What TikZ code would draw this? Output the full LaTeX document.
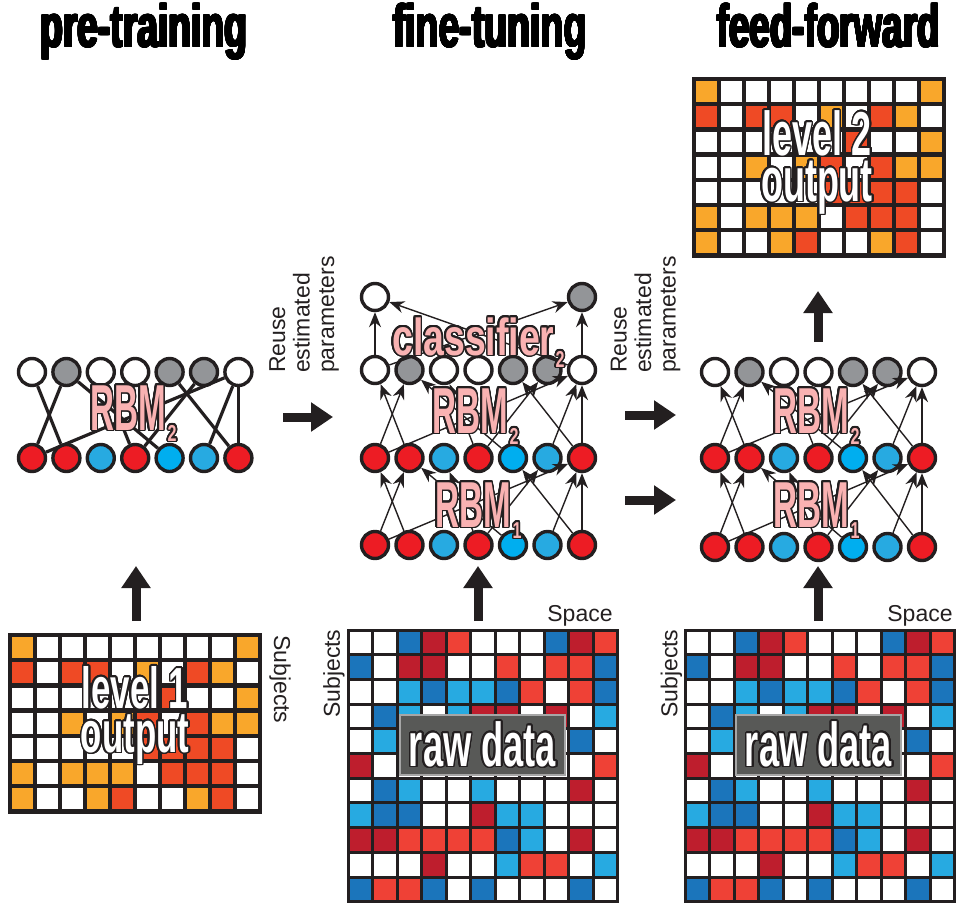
\documentclass[tikz,border=0pt]{standalone}
\usepackage{fontspec}
\setmainfont{Liberation Sans}
\usepackage{graphicx}
\usepackage[copies]{contour}
\usetikzlibrary{arrows.meta}
\definecolor{ink}{RGB}{35,31,32}
\definecolor{unitred}{RGB}{237,28,36}
\definecolor{unitblue}{RGB}{39,170,225}
\definecolor{unitcyan}{RGB}{0,174,239}
\definecolor{unitgray}{RGB}{147,149,152}
\definecolor{labelpink}{RGB}{249,178,178}
\definecolor{boxgray}{RGB}{88,89,87}
\definecolor{gO}{RGB}{249,167,43}
\definecolor{gR}{RGB}{239,74,37}
\definecolor{gW}{RGB}{255,255,255}
\definecolor{gB}{RGB}{27,117,187}
\definecolor{gC}{RGB}{39,170,225}
\definecolor{gD}{RGB}{190,30,45}
\definecolor{gL}{RGB}{239,65,54}
\contourlength{1.6pt}
\contournumber{24}
\newcommand\squeeze[2]{\scalebox{#1}[1]{#2}}
\newcommand\titletext[2]{{\contourlength{0.9pt}\contour{black}{\scalebox{#1}[1.3]{#2}}}}
\newcommand\rbmtext[1]{\contour{ink}{\squeeze{0.51}{RBM}}\kern2pt\contour{ink}{\raisebox{-11pt}{\fontsize{23}{23}\selectfont\squeeze{0.7}{#1}}}}
\tikzstyle{unit}=[circle,draw=ink,line width=3.4pt,minimum size=27pt,inner sep=0pt]
\tikzstyle{tie}=[draw=ink,line width=3.2pt]
\tikzstyle{wire}=[draw=ink,line width=1.4pt,-{Stealth[length=15pt,width=12pt]}]
\tikzstyle{bigarrow}=[draw=ink,line width=9pt,-{Triangle[length=22pt,width=28pt]}]
\tikzstyle{heading}=[inner sep=0pt,text=black,font=\fontsize{46}{46}\selectfont\bfseries,anchor=base]
\tikzstyle{sidetext}=[inner sep=0pt,text=ink,font=\fontsize{23}{24.5}\selectfont]
\tikzstyle{rbm}=[inner sep=0pt,text=labelpink,font=\fontsize{65}{65}\selectfont\bfseries,anchor=base west]
\tikzstyle{cardtext}=[inner sep=0pt,text=white,align=center]
\tikzstyle{cell}=[draw=ink,line width=4.5pt]
\tikzstyle{rawcell}=[draw=ink,line width=3pt]
\tikzstyle{rawbox}=[fill=boxgray,draw=gray!70,line width=1.5pt,minimum width=165pt,minimum height=60pt,
  inner sep=0pt,text=white,font=\fontsize{62}{62}\selectfont\bfseries]

\begin{document}
\begin{tikzpicture}[x=1pt,y=-1pt]
    \useasboundingbox (0,0) rectangle (958,910);
    % titles
    \node[heading] (title-pre) at (144,47) {\titletext{0.81}{pre-training}};
    \node[heading] (title-fine) at (490,47) {\titletext{0.815}{fine-tuning}};
    \node[heading] (title-ff) at (828.5,47) {\titletext{0.80}{feed-forward}};
    % level outputs
    \foreach \ox/\oy in {10/635,694/79}{
      \foreach \row [count=\r] in {{O,W,W,W,W,W,W,W,W,O},{R,W,R,R,W,O,W,R,O,W},{W,W,W,W,W,W,R,W,W,O},
          {W,W,O,W,O,R,W,R,O,O},{W,W,W,W,W,R,R,R,R,W},{O,W,O,O,O,W,R,R,R,W},{O,W,W,O,R,W,W,O,R,W}}{
        \foreach \c [count=\k] in \row
          \draw[cell,fill=g\c] ({\ox+(\k-1)*25},{\oy+(\r-1)*25.2}) rectangle ++(25,25.2);
      }
    }
    % raw data
    \foreach \ox in {348,685}{
      \foreach \row [count=\r] in {{W,W,B,D,L,W,W,W,B,D,L},{B,W,D,D,W,W,L,W,L,L,B},{W,W,C,B,C,C,B,L,W,L,B},
          {W,B,C,W,C,D,D,W,D,W,C},{W,C,W,W,W,W,W,W,W,B,W},{D,W,W,W,W,W,W,W,W,W,L},{W,B,C,W,W,C,W,W,W,D,W},
          {C,B,B,W,W,D,C,C,W,W,W},{D,D,L,L,L,L,B,C,W,D,W},{W,W,W,D,W,W,C,L,L,W,C},{B,L,L,B,W,B,W,W,W,B,W}}{
        \foreach \c [count=\k] in \row
          \draw[rawcell,fill=g\c] ({\ox+(\k-1)*24.5},{630+(\r-1)*24.7}) rectangle ++(24.5,24.7);
      }
    }
    \node[cardtext,font=\fontsize{58}{44}\selectfont\bfseries] (lvl1-text) at (135,716)
      {\contour{ink}{\squeeze{0.6}{level 1}}\\\contour{ink}{\squeeze{0.6}{output}}};
    \node[cardtext,font=\fontsize{62}{46}\selectfont\bfseries] (lvl2-text) at (817,163)
      {\contour{ink}{\squeeze{0.58}{level 2}}\\\contour{ink}{\squeeze{0.58}{output}}};
    \node[rawbox] (raw1-text) at (482.5,745) {\contour{ink}{\squeeze{0.585}{raw data}}};
    \node[rawbox] (raw2-text) at (818.5,745) {\contour{ink}{\squeeze{0.585}{raw data}}};
    % axis words
    \node[sidetext,rotate=-90,anchor=west] (subj1) at (280,635) {Subjects};
    \node[sidetext,rotate=90,anchor=west] (subj2) at (334,718) {Subjects};
    \node[sidetext,rotate=90,anchor=west] (subj3) at (671.5,718) {Subjects};
    \node[sidetext,anchor=base] (space1) at (580,621) {Space};
    \node[sidetext,anchor=base] (space2) at (920,621) {Space};
    \node[sidetext,rotate=90,anchor=west,align=left] (reuse1) at (304,373) {Reuse\\estimated\\parameters};
    \node[sidetext,rotate=90,anchor=west,align=left] (reuse2) at (645.5,373) {Reuse\\estimated\\parameters};
    % pre-training net
    \foreach \i/\col in {1/white,2/unitgray,3/white,4/white,5/unitgray,6/unitgray,7/white}
      \node[unit,fill=\col] (pt-h\i) at ({32+(\i-1)*34.4},372) {};
    \foreach \i/\col in {1/unitred,2/unitred,3/unitblue,4/unitred,5/unitcyan,6/unitblue,7/unitred}
      \node[unit,fill=\col] (pt-v\i) at ({32+(\i-1)*34.4},458) {};
    \foreach \b/\t in {2/1,1/2,5/2,4/3,7/5,4/6,1/7,6/7,7/7}
      \draw[tie] (pt-v\b) -- (pt-h\t);
    % fine-tuning net
    \foreach \i/\col in {1/white,2/unitgray,3/white,4/white,5/unitgray,6/unitgray,7/white}
      \node[unit,fill=\col] (ft-a\i) at ({375+(\i-1)*34.5},370) {};
    \foreach \i/\col in {1/unitred,2/unitred,3/unitblue,4/unitred,5/unitcyan,6/unitblue,7/unitred}{
      \node[unit,fill=\col] (ft-b\i) at ({375+(\i-1)*34.5},458) {};
      \node[unit,fill=\col] (ft-c\i) at ({375+(\i-1)*34.5},545) {};
    }
    \node[unit,fill=white] (ft-k1) at (375,297) {};
    \node[unit,fill=unitgray] (ft-k2) at (582,297) {};
    \foreach \b/\t in {2/1,1/2,5/2,4/3,7/5,4/6,1/7,6/7,7/7}{
      \draw[wire] (ft-c\b) -- (ft-b\t);
      \draw[wire] (ft-b\b) -- (ft-a\t);
    }
    \draw[wire] (ft-a1) -- (ft-k1);
    \draw[wire] (ft-a7) -- (ft-k1);
    \draw[wire] (ft-a1) -- (ft-k2);
    \draw[wire] (ft-a7) -- (ft-k2);
    % feed-forward net
    \foreach \i/\col in {1/white,2/unitgray,3/white,4/white,5/unitgray,6/unitgray,7/white}
      \node[unit,fill=\col] (ff-a\i) at ({715+(\i-1)*34.5},372) {};
    \foreach \i/\col in {1/unitred,2/unitred,3/unitblue,4/unitred,5/unitcyan,6/unitblue,7/unitred}{
      \node[unit,fill=\col] (ff-b\i) at ({715+(\i-1)*34.5},458) {};
      \node[unit,fill=\col] (ff-c\i) at ({715+(\i-1)*34.5},547) {};
    }
    \foreach \b/\t in {2/1,1/2,5/2,4/3,7/5,4/6,1/7,6/7,7/7}{
      \draw[wire] (ff-c\b) -- (ff-b\t);
      \draw[wire] (ff-b\b) -- (ff-a\t);
    }
    % layer names
    \node[rbm] (pt-rbm2) at (90,430) {\rbmtext{2}};
    \node[rbm,font=\fontsize{52}{52}\selectfont\bfseries] (ft-cls) at (392,355)
      {\contour{ink}{\squeeze{0.72}{classifier}}\kern1pt\contour{ink}{\raisebox{-12pt}{\fontsize{23}{23}\selectfont\squeeze{0.7}{2}}}};
    \node[rbm] (ft-rbm2) at (432,433) {\rbmtext{2}};
    \node[rbm] (ft-rbm1) at (435,527) {\rbmtext{1}};
    \node[rbm] (ff-rbm2) at (773,433) {\rbmtext{2}};
    \node[rbm] (ff-rbm1) at (773,527) {\rbmtext{1}};
    % block arrows
    \coordinate (up1s) at (136,621);
    \coordinate (up1e) at (136,566);
    \coordinate (up2s) at (478,621);
    \coordinate (up2e) at (478,566);
    \coordinate (up3s) at (818,621);
    \coordinate (up3e) at (818,566);
    \coordinate (up4s) at (818,342);
    \coordinate (up4e) at (818,291);
    \coordinate (rt1s) at (283,417);
    \coordinate (rt1e) at (333,417);
    \coordinate (rt2s) at (625,415);
    \coordinate (rt2e) at (676,415);
    \coordinate (rt3s) at (625,500);
    \coordinate (rt3e) at (676,500);
    \draw[bigarrow] (up1s) -- (up1e);
    \draw[bigarrow] (up2s) -- (up2e);
    \draw[bigarrow] (up3s) -- (up3e);
    \draw[bigarrow] (up4s) -- (up4e);
    \draw[bigarrow] (rt1s) -- (rt1e);
    \draw[bigarrow] (rt2s) -- (rt2e);
    \draw[bigarrow] (rt3s) -- (rt3e);
\end{tikzpicture}
\end{document}
